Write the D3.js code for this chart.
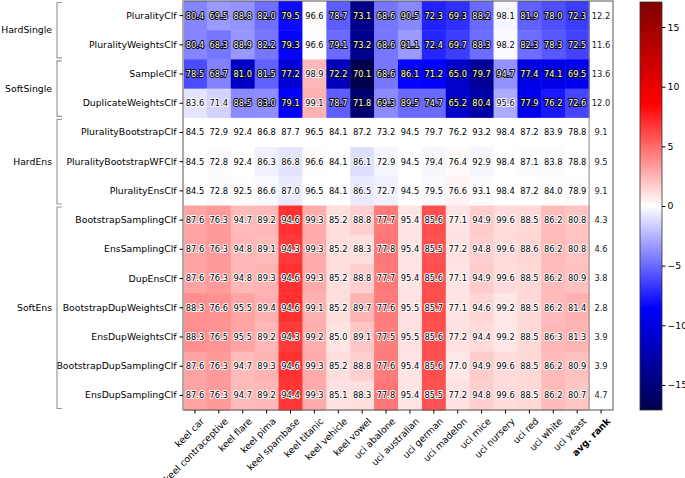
<!DOCTYPE html>
<html>
<head>
<meta charset="utf-8">
<script src="https://cdn.jsdelivr.net/npm/d3@7"></script>
<style>
  body { margin: 0; background: #fff; }
  text { font-family: "DejaVu Sans", sans-serif; }
</style>
</head>
<body>
<script>
// datasets (columns) and the extra rank column
var datasets = ["keel car", "keel contraceptive", "keel flare", "keel pima", "keel spambase",
  "keel titanic", "keel vehicle", "keel vowel", "uci abalone", "uci australian", "uci german",
  "uci madelon", "uci mice", "uci nursery", "uci red", "uci white", "uci yeast"];
var rankLabel = "avg. rank";

var methods = ["PluralityClf", "PluralityWeightsClf", "SampleClf", "DuplicateWeightsClf",
  "PluralityBootstrapClf", "PluralityBootstrapWFClf", "PluralityEnsClf",
  "BootstrapSamplingClf", "EnsSamplingClf", "DupEnsClf", "BootstrapDupWeightsClf",
  "EnsDupWeightsClf", "BootstrapDupSamplingClf", "EnsDupSamplingClf"];

var groupNames = ["HardSingle", "SoftSingle", "HardEns", "SoftEns"];
var groupSizes = [2, 2, 3, 7];

// accuracy values, one row per method
var scores = [
  [80.4, 69.5, 88.8, 82.0, 79.5, 96.6, 78.7, 73.1, 68.6, 90.5, 72.3, 69.3, 88.2, 98.1, 81.9, 78.0, 72.3],
  [80.4, 68.3, 88.9, 82.2, 79.3, 96.6, 79.1, 73.2, 68.6, 91.1, 72.4, 69.7, 88.3, 98.2, 82.3, 78.3, 72.5],
  [78.5, 68.7, 81.0, 81.5, 77.2, 98.9, 72.2, 70.1, 68.6, 86.1, 71.2, 65.0, 79.7, 94.7, 77.4, 74.1, 69.5],
  [83.6, 71.4, 88.5, 83.0, 79.1, 99.1, 78.7, 71.8, 69.3, 89.5, 74.7, 65.2, 80.4, 95.6, 77.9, 76.2, 72.6],
  [84.5, 72.9, 92.4, 86.8, 87.7, 96.5, 84.1, 87.2, 73.2, 94.5, 79.7, 76.2, 93.2, 98.4, 87.2, 83.9, 78.8],
  [84.5, 72.8, 92.4, 86.3, 86.8, 96.6, 84.1, 86.1, 72.9, 94.5, 79.4, 76.4, 92.9, 98.4, 87.1, 83.8, 78.8],
  [84.5, 72.8, 92.5, 86.6, 87.0, 96.5, 84.1, 86.5, 72.7, 94.5, 79.5, 76.6, 93.1, 98.4, 87.2, 84.0, 78.9],
  [87.6, 76.3, 94.7, 89.2, 94.6, 99.3, 85.2, 88.8, 77.7, 95.4, 85.6, 77.1, 94.9, 99.6, 88.5, 86.2, 80.8],
  [87.6, 76.3, 94.8, 89.1, 94.3, 99.3, 85.2, 88.3, 77.8, 95.4, 85.5, 77.2, 94.8, 99.6, 88.6, 86.2, 80.8],
  [87.6, 76.3, 94.8, 89.3, 94.6, 99.3, 85.2, 88.8, 77.7, 95.4, 85.6, 77.1, 94.9, 99.6, 88.5, 86.2, 80.9],
  [88.3, 76.6, 95.5, 89.4, 94.6, 99.1, 85.2, 89.7, 77.6, 95.5, 85.7, 77.1, 94.6, 99.2, 88.5, 86.2, 81.4],
  [88.3, 76.5, 95.5, 89.2, 94.3, 99.2, 85.0, 89.1, 77.5, 95.5, 85.6, 77.2, 94.4, 99.2, 88.5, 86.3, 81.3],
  [87.6, 76.3, 94.7, 89.3, 94.6, 99.3, 85.2, 88.8, 77.6, 95.4, 85.6, 77.0, 94.9, 99.6, 88.5, 86.2, 80.9],
  [87.6, 76.3, 94.7, 89.2, 94.4, 99.3, 85.1, 88.3, 77.8, 95.4, 85.5, 77.2, 94.8, 99.6, 88.5, 86.2, 80.7]
];
var avgRanks = [12.2, 11.6, 13.6, 12.0, 9.1, 9.5, 9.1, 4.3, 4.6, 3.8, 2.8, 3.9, 3.9, 4.7];

// colour = difference to the PluralityBootstrapClf row
var baselineMethod = "PluralityBootstrapClf";
var cbTicks = [-15, -10, -5, 0, 5, 10, 15];

var W = 685, H = 478;
var plot = {left: 183, right: 613, top: 1, bottom: 410};

var base = scores[methods.indexOf(baselineMethod)];
var cells = [];
scores.forEach(function(row, i) {
  row.forEach(function(v, j) {
    cells.push({method: methods[i], dataset: datasets[j], value: v, diff: v - base[j]});
  });
});
var vmax = d3.max(cells, function(d) { return Math.abs(d.diff); });

// matplotlib "seismic"
var color = d3.scaleLinear()
  .domain([-vmax, -vmax / 2, 0, vmax / 2, vmax])
  .range(["rgb(0,0,77)", "rgb(0,0,255)", "rgb(255,255,255)", "rgb(255,0,0)", "rgb(128,0,0)"]);

var x = d3.scaleBand()
  .domain(datasets.concat([rankLabel]))
  .range([plot.left, plot.right]);
var y = d3.scaleBand()
  .domain(methods)
  .range([plot.top, plot.bottom]);

var svg = d3.select("body").append("svg")
  .attr("width", W)
  .attr("height", H);

// heatmap cells
svg.append("g").selectAll("rect")
  .data(cells)
  .enter().append("rect")
  .attr("x", function(d) { return x(d.dataset); })
  .attr("y", function(d) { return y(d.method); })
  .attr("width", x.bandwidth() + 0.5)
  .attr("height", y.bandwidth() + 0.5)
  .attr("fill", function(d) { return color(d.diff); });

// cell labels
svg.append("g").selectAll("text")
  .data(cells)
  .enter().append("text")
  .attr("x", function(d) { return x(d.dataset) + x.bandwidth() / 2; })
  .attr("y", function(d) { return y(d.method) + y.bandwidth() / 2; })
  .attr("dy", "0.35em")
  .attr("text-anchor", "middle")
  .attr("font-size", "8.3px")
  .attr("paint-order", "stroke")
  .attr("stroke-width", 1.8)
  .attr("stroke-linejoin", "round")
  .attr("stroke", function(d) { return d.diff < -3.3 ? "#000" : "#fff"; })
  .attr("fill", function(d) { return d.diff < -3.3 ? "#fff" : "#000"; })
  .text(function(d) { return d.value.toFixed(1); });

// avg rank column
svg.append("g").selectAll("text")
  .data(avgRanks)
  .enter().append("text")
  .attr("x", x(rankLabel) + x.bandwidth() / 2)
  .attr("y", function(d, i) { return y(methods[i]) + y.bandwidth() / 2; })
  .attr("dy", "0.35em")
  .attr("text-anchor", "middle")
  .attr("font-size", "8.3px")
  .attr("fill", "#222")
  .text(function(d) { return d.toFixed(1); });

// frame
svg.append("rect")
  .attr("x", plot.left).attr("y", plot.top)
  .attr("width", plot.right - plot.left).attr("height", plot.bottom - plot.top)
  .attr("fill", "none").attr("stroke", "#555").attr("stroke-width", 1);
svg.append("line")
  .attr("x1", x(rankLabel)).attr("x2", x(rankLabel))
  .attr("y1", plot.top).attr("y2", plot.bottom)
  .attr("stroke", "#888");
svg.append("line")
  .attr("x1", plot.left).attr("x2", plot.left)
  .attr("y1", plot.top).attr("y2", plot.bottom)
  .attr("stroke", "#aaa").attr("stroke-width", 2);

// y axis (method names)
var yAxis = svg.append("g")
  .attr("transform", "translate(" + plot.left + ",0)")
  .call(d3.axisLeft(y).tickSize(3.5).tickPadding(3));
yAxis.select(".domain").remove();
yAxis.selectAll("text").attr("font-size", "9.3px").attr("fill", "#000")
  .style("font-family", "DejaVu Sans");

// x axis (datasets)
var xAxis = svg.append("g")
  .attr("transform", "translate(0," + plot.bottom + ")")
  .call(d3.axisBottom(x).tickSize(3.5).tickPadding(2));
xAxis.select(".domain").remove();
xAxis.selectAll("text")
  .attr("font-size", "9.3px").attr("fill", "#000")
  .style("font-family", "DejaVu Sans")
  .attr("text-anchor", "end")
  .attr("dy", "0.6em")
  .attr("transform", "translate(2,4) rotate(-45)")
  .attr("font-weight", function(d) { return d === rankLabel ? "bold" : "normal"; });

// group brackets
var groupStart = 0;
var brackets = svg.append("g");
groupNames.forEach(function(name, gi) {
  var first = methods[groupStart];
  var last = methods[groupStart + groupSizes[gi] - 1];
  var y0 = y(first) + 1.5, y1 = y(last) + y.bandwidth() - 1.5;
  var bx = 57;
  brackets.append("path")
    .attr("d", "M" + (bx + 5) + "," + y0 + "H" + bx + "V" + y1 + "H" + (bx + 5))
    .attr("fill", "none").attr("stroke", "#999").attr("stroke-width", 1.2);
  brackets.append("text")
    .attr("x", 52).attr("y", (y0 + y1) / 2)
    .attr("dy", "0.35em")
    .attr("text-anchor", "end")
    .attr("font-size", "9.3px")
    .text(name);
  groupStart += groupSizes[gi];
});

// colorbar
var cb = {x: 640, w: 22, top: 2, bottom: 410};
var cbScale = d3.scaleLinear().domain([-vmax, vmax]).range([cb.bottom, cb.top]);
var grad = svg.append("defs").append("linearGradient")
  .attr("id", "cbgrad").attr("x1", 0).attr("y1", 1).attr("x2", 0).attr("y2", 0);
d3.range(0, 1.0001, 0.05).forEach(function(t) {
  grad.append("stop").attr("offset", t).attr("stop-color", color(-vmax + 2 * vmax * t));
});
svg.append("rect")
  .attr("x", cb.x).attr("y", cb.top)
  .attr("width", cb.w).attr("height", cb.bottom - cb.top)
  .attr("fill", "url(#cbgrad)")
  .attr("stroke", "#333").attr("stroke-width", 0.8);
var cbAxis = svg.append("g")
  .attr("transform", "translate(" + (cb.x + cb.w) + ",0)")
  .call(d3.axisRight(cbScale).tickValues(cbTicks).tickSize(3.5).tickPadding(2));
cbAxis.select(".domain").remove();
cbAxis.selectAll("text").attr("font-size", "9.3px").attr("fill", "#000")
  .style("font-family", "DejaVu Sans");
</script>
</body>
</html>
